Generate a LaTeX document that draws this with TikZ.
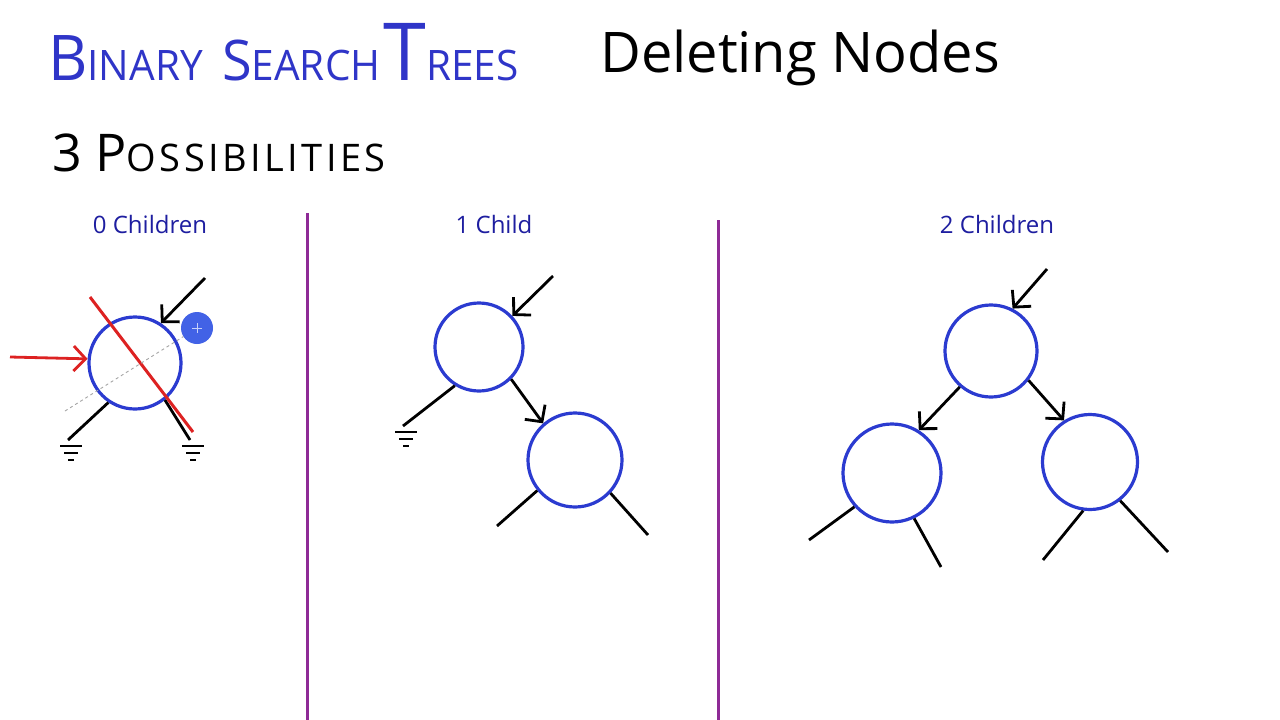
\documentclass[tikz,border=0pt]{standalone}
\usepackage{fontspec}
\usepackage{graphicx}
\setmainfont{Open Sans}
\usetikzlibrary{arrows.meta}

\definecolor{nodeblue}{HTML}{2B3BD0}
\definecolor{labelblue}{HTML}{1E1EA0}
\definecolor{titleblue}{HTML}{2F35C8}
\definecolor{divider}{HTML}{8E2A96}
\definecolor{cursorblue}{HTML}{4262E6}
\definecolor{penred}{HTML}{DD2222}

% hand-lettered small caps: one tall letter, then short ones
\newcommand{\tallcap}[2]{{\fontsize{#1}{#1}\selectfont #2}}
\newcommand{\lowcaps}[2]{{\fontsize{#1}{#1}\selectfont #2}}

\tikzset{
  nullleaf/.pic={
    \draw[line width=2.8pt] (-8,6) -- (14,6) (-4,13) -- (10,13) (0,20) -- (6,20);
  }
}

\begin{document}
\begin{tikzpicture}[x=1pt,y=-1pt,
    bst/.style={circle,draw=nodeblue,line width=3.2pt,minimum size=92pt,inner sep=0pt},
    ptr/.style={-{Straight Barb[length=12pt,width=25pt,line width=2.8pt]},line width=2.8pt},
    stub/.style={line width=2.8pt},
    hdr/.style={text=labelblue,font=\fontsize{24}{28}\selectfont,anchor=base}]

\fill[white] (0,0) rectangle (1280,720);
\useasboundingbox (0,0) rectangle (1280,720);

% titles
\node[anchor=base west,inner sep=0pt,text=titleblue] (bst) at (48,80)
  {\scalebox{0.965}[1]{\tallcap{63}{B}\lowcaps{42}{INARY}\hspace{20pt}\tallcap{56}{S}\lowcaps{42}{EARCH}\hspace{3pt}\tallcap{80}{T}\lowcaps{42}{REES}}};
\node[anchor=base west,inner sep=0pt] (deleting) at (600,72)
  {\fontsize{56}{56}\selectfont Deleting Nodes};
\node[anchor=base west,inner sep=0pt] (poss) at (52,171)
  {\tallcap{52}{3 P}\lowcaps{38}{\addfontfeature{LetterSpace=9}OSSIBILITIES}};

% column headings
\node[hdr] (zero) at (150,233) {0 Children};
\node[hdr] (one) at (494,233) {1 Child};
\node[hdr] (two) at (997,233) {2 Children};

% dividers
\draw[divider,line width=3pt] (307,213) -- (307,720);
\draw[divider,line width=3pt] (718,220) -- (718,720);

% 0 children
\node[bst] (del) at (135,363) {};
\coordinate (delin) at (205,278);
\coordinate (nl0) at (68,440);
\coordinate (nr0) at (190,440);
\draw[ptr] (delin) to (del.57);
\draw[stub] (del.236) to (nl0);
\draw[stub] (del.309) to (nr0);
\pic at (nl0) {nullleaf};
\pic at (nr0) {nullleaf};
\coordinate (redin) at (10,357);
\draw[ptr,draw=penred] (redin) to (del.175);
\coordinate (cuta) at (90,297);
\coordinate (cutb) at (193,432);
\draw[penred,line width=3pt] (cuta) -- (cutb);
\node[circle,fill=cursorblue,minimum size=32pt,inner sep=0pt] (cursor) at (197,328) {};
\coordinate (trail) at (65,411);
\draw[gray!70,line width=0.9pt,dash pattern=on 3pt off 3pt] (trail) -- (cursor);
\draw[white!70!cursorblue,line width=0.6pt] (cursor.center) ++(-5,0) -- ++(10,0)
  (cursor.center) ++(0,-5) -- ++(0,10);

% 1 child
\node[bst,minimum size=88pt] (top1) at (479,347) {};
\node[bst,minimum size=94pt] (kid1) at (575,460) {};
\coordinate (top1in) at (553,276);
\coordinate (nl1) at (403,426);
\coordinate (kl1) at (497,526);
\coordinate (kr1) at (648,535);
\draw[ptr] (top1in) to (top1.43);
\draw[stub] (top1.238) to (nl1);
\pic at (nl1) {nullleaf};
\draw[ptr] (top1.315) to (kid1.131);
\draw[stub] (kid1.219) to (kl1);
\draw[stub] (kid1.317) to (kr1);

% 2 children
\node[bst] (top2) at (991,351) {};
\node[bst,minimum size=98pt] (left2) at (892,473) {};
\node[bst,minimum size=95pt] (right2) at (1090,462) {};
\coordinate (top2in) at (1047,269);
\coordinate (ll2) at (809,540);
\coordinate (lr2) at (941,567);
\coordinate (rl2) at (1043,560);
\coordinate (rr2) at (1168,552);
\draw[ptr] (top2in) to (top2.63);
\draw[ptr] (top2.229) to (left2.58);
\draw[ptr] (top2.322) to (right2.122);
\draw[stub] (left2.222) to (ll2);
\draw[stub] (left2.296) to (lr2);
\draw[stub] (right2.262) to (rl2);
\draw[stub] (right2.308) to (rr2);
\end{tikzpicture}
\end{document}
